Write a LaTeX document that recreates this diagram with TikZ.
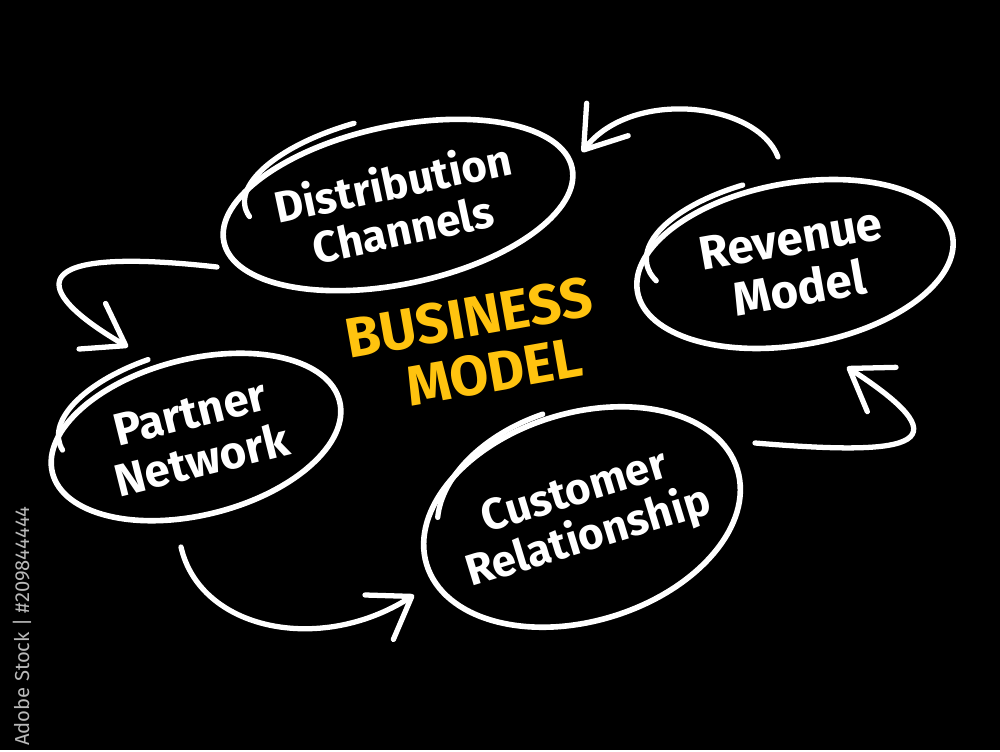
\documentclass[tikz,border=0pt]{standalone}
\usepackage{fontspec}
\setmainfont{Fira Sans}
\usetikzlibrary{arrows.meta,shapes.geometric,calc}

\definecolor{chalk}{RGB}{255,255,255}
\definecolor{marker}{RGB}{255,195,15}
\definecolor{stamp}{RGB}{185,185,185}

\begin{document}
\begin{tikzpicture}[x=0.02cm,y=0.02cm,
  bubble/.style={draw=chalk,ellipse,line width=3.2pt,inner sep=0pt,text=chalk,
    font=\bfseries\fontsize{25}{27}\selectfont,align=center},
  stroke/.style={chalk,line width=3pt,line cap=round,line join=round},
  curl/.style={stroke,-{Straight Barb[length=22pt,width=30pt,line cap=round,line join=round]}}]
\fill[black] (0,0) rectangle (1000,750);
%\draw [help lines,black!60!white] (0,0) grid[step=1cm] (1000,750);

\node[bubble,minimum width=7.12cm,minimum height=3.16cm,rotate=12] (dist) at (398,545) {Distribution\\Channels};
\node[bubble,minimum width=6.4cm,minimum height=3.24cm,rotate=10,font=\bfseries\fontsize{27}{29}\selectfont] (rev) at (795,486) {Revenue\\Model};
\node[bubble,minimum width=5.92cm,minimum height=3.12cm,rotate=14,font=\bfseries\fontsize{26}{28}\selectfont] (part) at (196,313) {Partner\\Network};
\node[bubble,minimum width=6.5cm,minimum height=4.16cm,inner xsep=-12pt,rotate=17] (cust) at (582,233) {Customer\\Relationship};
\node[text=marker,font=\bfseries\fontsize{32}{33}\selectfont,align=center,rotate=10] (bm) at (474,404) {BUSINESS\\\hspace*{18pt}MODEL};

% second pen stroke on each ellipse
\foreach \n/\r/\s/\a/\b/\p/\q in {dist/12/0.6cm/3.0cm/1.2cm/100/190,
    rev/10/0.52cm/2.92cm/1.26cm/105/197,
    part/14/0.56cm/2.68cm/1.2cm/102/188,
    cust/17/0.36cm/2.86cm/1.84cm/93/165}
  \draw[stroke,shift={(\n.center)},rotate=\r,yshift=\s] (\p:{\a} and {\b}) arc[start angle=\p,end angle=\q,x radius=\a,y radius=\b];

\draw[curl] ($(rev.center)+(-17,107)$) .. controls +(-21,55) and +(50,64) .. ($(dist.center)+(184,53)$);
\draw[curl] ($(dist.center)+(-181,-62)$) .. controls +(-197,22) and +(-98,57) .. ($(part.center)+(-68,90)$);
\draw[curl] ($(part.center)+(-15,-110)$) .. controls +(19,-83) and +(-94,-60) .. ($(cust.center)+(-168,-78)$);
\draw[curl] ($(cust.center)+(173,74)$) .. controls +(145,-12) and +(128,-83) .. ($(rev.center)+(52,-103)$);

\node[rotate=90,text=stamp,font=\fontsize{11.5}{13}\selectfont] (stock) at (22,124) {Adobe Stock | \#209844444};
\end{tikzpicture}
\end{document}
